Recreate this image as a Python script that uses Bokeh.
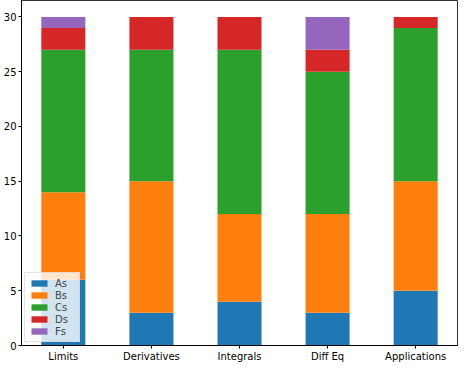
from bokeh.plotting import figure
from bokeh.models import Range1d, FixedTicker, Legend, LegendItem, ColumnDataSource
from bokeh.embed import file_html
from bokeh.resources import INLINE

categories = ["Limits", "Derivatives", "Integrals", "Diff Eq", "Applications"]
grades = ["As", "Bs", "Cs", "Ds", "Fs"]
As = [6, 3, 4, 3, 5]
Bs = [8, 12, 8, 9, 10]
Cs = [13, 12, 15, 13, 14]
Ds = [2, 3, 3, 2, 1]
Fs = [1, 0, 0, 3, 0]
colors = ["#1f77b4", "#ff7f0e", "#2ca02c", "#d62728", "#9467bd"]
y_ticks = [0, 5, 10, 15, 20, 25, 30]

x = list(range(len(categories)))
source = ColumnDataSource(dict(x=x, As=As, Bs=Bs, Cs=Cs, Ds=Ds, Fs=Fs))

p = figure(width=458, height=364, output_backend="svg", toolbar_location=None,
           x_range=Range1d(-0.475, 4.475), y_range=Range1d(0, 31.5),
           min_border_left=0, min_border_right=1, min_border_top=0, min_border_bottom=0)

renderers = p.vbar_stack(grades, x="x", width=0.5, color=colors, source=source,
                         line_color=None)

legend = Legend(items=[LegendItem(label=g, renderers=[r]) for g, r in zip(grades, renderers)],
                location="bottom_left")
legend.background_fill_alpha = 0.8
legend.border_line_color = "#cccccc"
legend.label_text_font = "DejaVu Sans"
legend.label_text_font_size = "10px"
legend.glyph_width = 20
legend.glyph_height = 8
legend.spacing = 0
legend.padding = 4
legend.margin = 3
legend.label_height = 12
legend.label_standoff = 6
p.add_layout(legend)

p.xgrid.visible = False
p.ygrid.visible = False
p.outline_line_color = "black"
p.outline_line_alpha = 0.8

p.xaxis.ticker = FixedTicker(ticks=x)
p.xaxis.major_label_overrides = {i: c for i, c in enumerate(categories)}
p.yaxis.ticker = FixedTicker(ticks=y_ticks)
for ax in (p.xaxis, p.yaxis):
    ax.minor_tick_line_color = None
    ax.major_tick_in = 0
    ax.major_tick_out = 3
    ax.axis_line_color = "black"
    ax.major_label_text_font = "DejaVu Sans"
    ax.major_label_text_font_size = "10px"
    ax.major_label_text_color = "black"
p.yaxis.major_label_standoff = 2
p.xaxis.major_label_standoff = 2

open("out.html", "w").write(file_html(p, INLINE))
